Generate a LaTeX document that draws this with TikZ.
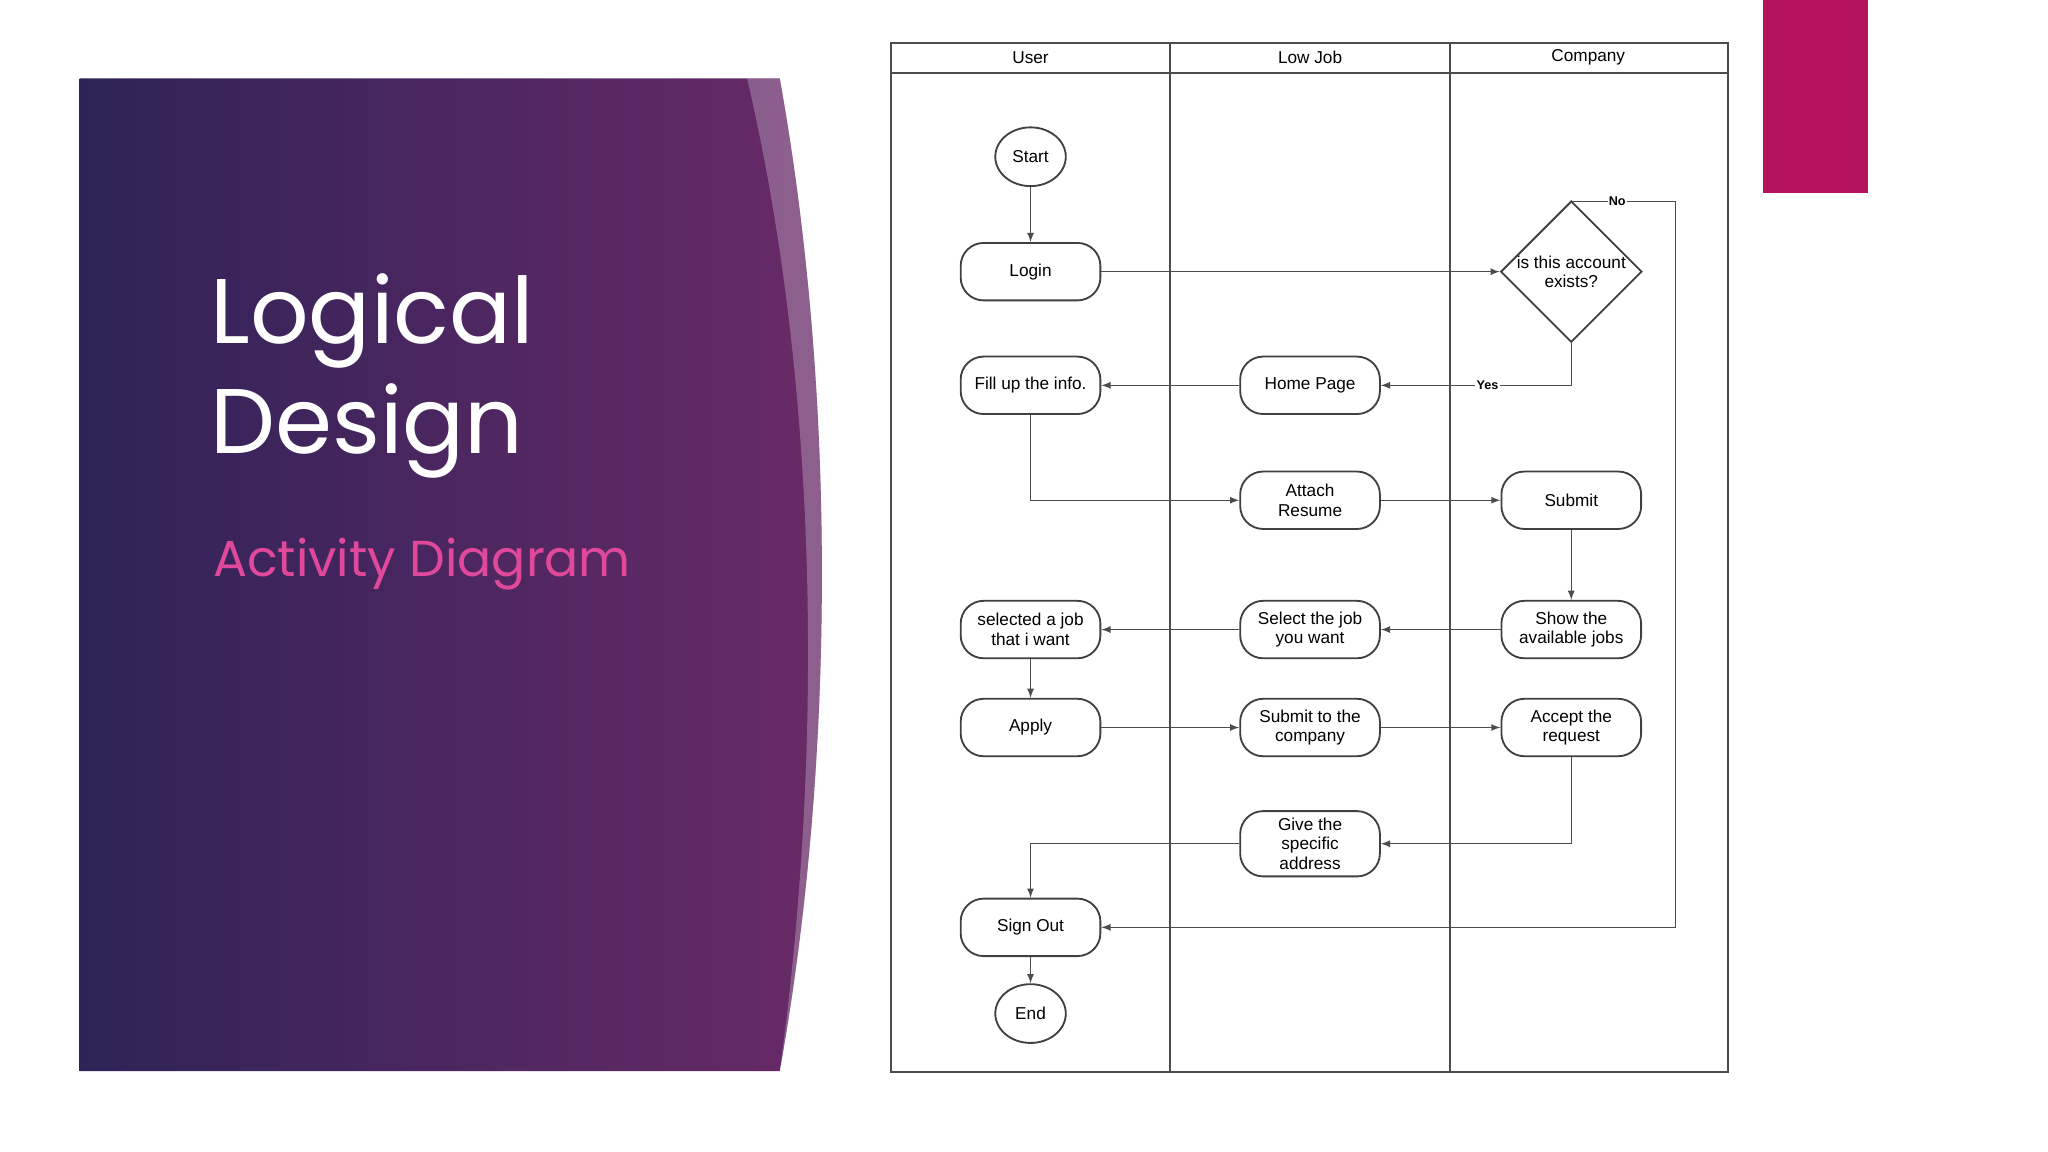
\documentclass[tikz,border=0pt]{standalone}
\usepackage{fontspec}
\setmainfont{Liberation Sans}
\newfontfamily\titlefont{Poppins}
\usetikzlibrary{positioning,arrows,shapes.geometric}
\definecolor{deeppurple}{HTML}{2E2358}
\definecolor{plum}{HTML}{6A2A68}
\definecolor{hotpink}{HTML}{E0489C}
\definecolor{magbar}{HTML}{B5135E}
\tikzset{A node/.style={rounded corners=10pt,draw=black!75,thick,fill=white,minimum width=2.14cm,minimum height=0.88cm,inner sep=1pt,align=center,font=\fontsize{7.5}{8.5}\selectfont},
	E node/.style={ellipse,draw=black!75,thick,fill=white,minimum width=1.08cm,minimum height=0.9cm,inner sep=0pt,font=\fontsize{7.5}{8.5}\selectfont},
	D node/.style={diamond,draw=black!75,thick,fill=white,minimum width=2.08cm,minimum height=1.28cm,inner sep=0pt,align=center,font=\fontsize{7.5}{8.5}\selectfont},
	flow/.style={draw=black!70,-latex},
	lane/.style={draw=black!70,thick},}
\begin{document}
\begin{tikzpicture}[x=0.02cm,y=-0.02cm]
	\useasboundingbox (0,0) rectangle (1568,882);
	\fill[white] (0,0) rectangle (1568,882);
	% slide background
	\shade[left color=deeppurple,right color=plum] (61,60) -- (597,60) .. controls (640,300) and (640,580) .. (597,820) -- (61,820) -- cycle;
	\fill[white,opacity=0.25] (572,60) -- (597,60) .. controls (640,300) and (640,580) .. (597,820) .. controls (630,580) and (628,300) .. (572,60) -- cycle;
	\fill[magbar] (1350,0) rectangle (1430,148);
	\node[anchor=west,text=white,font=\titlefont\fontsize{40}{48}\selectfont,align=left] (title) at (155,288) {Logical\\Design};
	\node[anchor=west,text=hotpink,font=\titlefont\fontsize{22}{26}\selectfont] (sub) at (157,432) {Activity Diagram};

	% swimlanes
	\draw[lane] (682,33) rectangle (1323,821);
	\draw[lane] (682,56) -- (1323,56);
	\draw[lane] (896,33) -- (896,821);
	\draw[lane] (1110,33) -- (1110,821);
	\node[font=\fontsize{7.5}{8.5}\selectfont] (h1) at (789,44) {User};
	\node[font=\fontsize{7.5}{8.5}\selectfont] (h2) at (1003,44) {Low Job};
	\node[font=\fontsize{7.5}{8.5}\selectfont] (h3) at (1216,44) {Company};

	% user
	\node[E node] (start) at (789,120) {Start};
	\node[A node] (login) at (789,208) {Login};
	\node[A node] (fill) at (789,295) {Fill up the info.};
	\node[A node] (sel) at (789,482) {selected a job\\that i want};
	\node[A node] (apply) at (789,557) {Apply};
	\node[A node] (out) at (789,710) {Sign Out};
	\node[E node] (end) at (789,776) {End};
	% low job
	\node[A node] (home) at (1003,295) {Home Page};
	\node[A node] (attach) at (1003,383) {Attach\\Resume};
	\node[A node] (choose) at (1003,482) {Select the job\\you want};
	\node[A node] (send) at (1003,557) {Submit to the\\company};
	\node[A node,minimum height=1cm] (addr) at (1003,646) {Give the\\specific\\address};
	% company
	\node[D node] (acc) at (1203,208) {is this account\\exists?};
	\node[A node] (submit) at (1203,383) {Submit};
	\node[A node] (jobs) at (1203,482) {Show the\\available jobs};
	\node[A node] (accept) at (1203,557) {Accept the\\request};

	\path[flow] (start) -- (login);
	\path[flow] (login) -- (acc);
	\path[flow] (acc.south) |- node[pos=0.72,font=\fontsize{5.5}{6}\selectfont\bfseries,fill=white,inner sep=0.5pt] {Yes} (home);
	\path[flow] (acc.north) |- (1283,154) node[pos=0.72,font=\fontsize{5.5}{6}\selectfont\bfseries,fill=white,inner sep=0.5pt] {No} |- (out);
	\path[flow] (home) -- (fill);
	\path[flow] (fill) |- (attach);
	\path[flow] (attach) -- (submit);
	\path[flow] (submit) -- (jobs);
	\path[flow] (jobs) -- (choose);
	\path[flow] (choose) -- (sel);
	\path[flow] (sel) -- (apply);
	\path[flow] (apply) -- (send);
	\path[flow] (send) -- (accept);
	\path[flow] (accept) |- (addr);
	\path[flow] (addr) -| (out);
	\path[flow] (out) -- (end);
\end{tikzpicture}
\end{document}
